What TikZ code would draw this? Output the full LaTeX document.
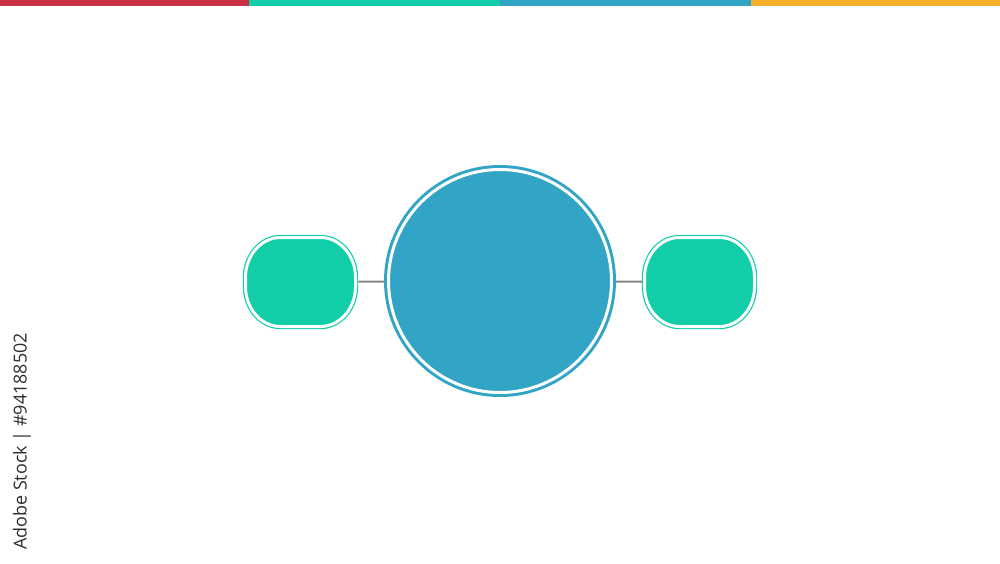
\documentclass[tikz,border=0pt]{standalone}
\usepackage{tikz}
\usepackage{xcolor}
\usepackage{fontspec}
\usetikzlibrary{shapes,positioning,calc}
\newfontfamily\stockfont{Open Sans}
\definecolor{barred}{RGB}{200,50,66}
\definecolor{teal}{RGB}{18,206,168}
\definecolor{hub}{RGB}{50,165,198}
\definecolor{barorange}{RGB}{245,175,40}
\definecolor{link}{RGB}{135,135,135}
\definecolor{stamp}{RGB}{45,45,45}

\tikzset{
  hubring/.style={circle, fill=hub, draw=white, line width=0.6mm, inner sep=0pt,
    minimum size=44.6mm, outer sep=0.9mm, preaction={draw=hub, line width=1.8mm}},
  pill/.style={rectangle, inner sep=0pt, outer sep=0pt,
    minimum width=23.1mm, minimum height=18.9mm},
  pillring/.style={fill=teal, draw=white, line width=0.6mm,
    preaction={draw=teal, line width=1.08mm}},
  link/.style={draw=link, line width=0.4mm}
}
% rounded pill with elliptic corners round a node
\newcommand\pillshape[1]{%
  \draw[pillring] ([shift={(-4mm,8.9mm)}]#1.center) -- ++(8mm,0)
    arc[start angle=90, end angle=0, x radius=7mm, y radius=8mm] -- ++(0,-1.8mm)
    arc[start angle=0, end angle=-90, x radius=7mm, y radius=8mm] -- ++(-8mm,0)
    arc[start angle=270, end angle=180, x radius=7mm, y radius=8mm] -- ++(0,1.8mm)
    arc[start angle=180, end angle=90, x radius=7mm, y radius=8mm] -- cycle;}

\begin{document}
\begin{tikzpicture}[x=0.2mm,y=-0.2mm]
\useasboundingbox (0,0) rectangle (1000,563);

% top bar
\fill[barred] (0,0) rectangle (249,6);
\fill[teal] (249,0) rectangle (500,6);
\fill[hub] (500,0) rectangle (751,6);
\fill[barorange] (751,0) rectangle (1000,6);

\node[hubring] (hub) at (500,281) {};
\node[pill] (left) at (300.5,282) {};
\node[pill] (right) at (699.5,282) {};
\pillshape{left}
\pillshape{right}

\draw[link] (left) -- (hub);
\draw[link] (hub) -- (right);

\node[rotate=90, text=stamp, inner sep=0pt] (stock) at (22,441.5)
  {\stockfont\fontsize{10.2pt}{12pt}\selectfont Adobe Stock | \#94188502};
\end{tikzpicture}
\end{document}
